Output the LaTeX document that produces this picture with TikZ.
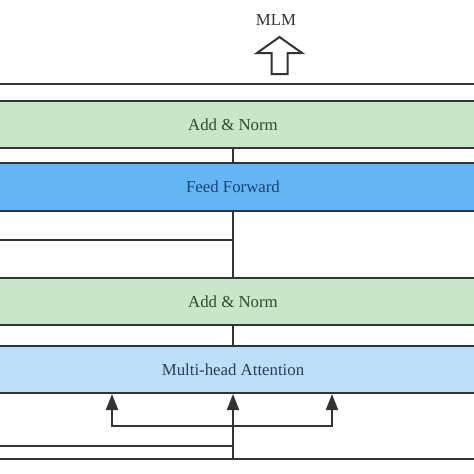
\documentclass[tikz,border=0pt]{standalone}
\usepackage{fontspec}
\setmainfont{Liberation Serif}
\usetikzlibrary{arrows.meta}
\definecolor{linegray}{HTML}{333333}
\definecolor{normfill}{HTML}{C8E6C9}
\definecolor{fffill}{HTML}{64B5F6}
\definecolor{attfill}{HTML}{BBDEFB}
\definecolor{normtext}{HTML}{2E4A30}
\definecolor{fftext}{HTML}{1B4470}
\definecolor{atttext}{HTML}{283E5C}
\tikzset{
  layerbox/.style={draw=linegray, line width=2pt, minimum width=500pt, minimum height=47pt,
    inner sep=0pt, font=\fontsize{16.8}{20}\selectfont},
  wire/.style={draw=linegray, line width=2pt},
  uparrow/.style={wire, -{Triangle[length=16pt,width=12pt]}},
}
\begin{document}
\begin{tikzpicture}[x=1pt,y=-1pt]
\useasboundingbox (0,0) rectangle (474,474);
\clip (0,0) rectangle (474,474);
% boxes
\node[layerbox, fill=normfill, text=normtext] (norm1) at (233,124.5) {Add \& Norm};
\node[layerbox, fill=fffill, text=fftext, minimum height=48pt] (ff) at (233,187) {Feed Forward};
\node[layerbox, fill=normfill, text=normtext] (norm2) at (233,301.5) {Add \& Norm};
\node[layerbox, fill=attfill, text=atttext] (att) at (233,369.5) {Multi-head Attention};
% outer lines
\coordinate (tl) at (-5,84);
\coordinate (tr) at (480,84);
\draw[wire] (tl) -- (tr);
\coordinate (bl) at (-5,459);
\coordinate (bm) at (233,459);
\coordinate (br) at (480,459);
\draw[wire] (bl) -- (br);
% residual lines
\coordinate (r1l) at (-5,240);
\coordinate (r1m) at (233,240);
\draw[wire] (r1l) -- (r1m);
\coordinate (r2l) at (-5,446);
\coordinate (r2m) at (233,446);
\draw[wire] (r2l) -- (r2m);
% vertical connectors
\draw[wire] (ff.north -| bm) -- (norm1.south -| bm);
\draw[wire] (norm2.north -| bm) -- (ff.south -| bm);
\draw[wire] (att.north -| bm) -- (norm2.south -| bm);
% attention inputs
\coordinate (split) at (233,426);
\coordinate (qin) at (112,426);
\coordinate (vin) at (332,426);
\draw[uparrow] (bm) -- (att.south -| bm);
\draw[uparrow] (split) -- (qin) -- (att.south -| qin);
\draw[uparrow] (split) -- (vin) -- (att.south -| vin);
% MLM output arrow
\draw[wire, line join=miter] (279.5,37) -- (302,53) -- (287.5,53) -- (287.5,74) -- (271.5,74) -- (271.5,53) -- (257,53) -- cycle;
\node[font=\fontsize{16.8}{20}\selectfont, text=linegray] (mlm) at (276,20) {MLM};
\end{tikzpicture}
\end{document}
